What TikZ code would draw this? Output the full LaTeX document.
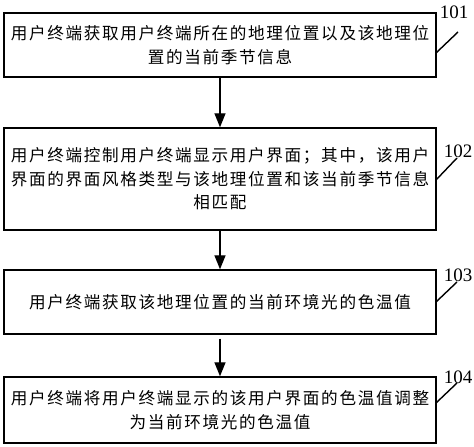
\documentclass[tikz,border=0pt]{standalone}
\usepackage{fontspec}
\newfontfamily\cjk[LetterSpace=10]{Noto Sans CJK SC}
\newfontfamily\numfont{Liberation Serif}
\usetikzlibrary{arrows.meta}
\begin{document}
\begin{tikzpicture}[x=1pt,y=1pt,
  stepbox/.style={draw,line width=1.4pt,minimum width=432pt,inner sep=0pt,align=center,
    font=\cjk\fontsize{16.6}{23.5}\selectfont},
  flow/.style={line width=1.4pt,-{Triangle[length=14pt,width=11pt]}},
  lead/.style={line width=1.4pt},
  num/.style={font=\numfont\fontsize{19}{19}\selectfont,inner sep=0pt}]
\useasboundingbox (0,0) rectangle (474,447);
\node[stepbox,minimum height=64pt] (b1) at (220,402) {用户终端获取用户终端所在的地理位置以及该地理位\\置的当前季节信息};
\node[stepbox,minimum height=102pt] (b2) at (220,268) {用户终端控制用户终端显示用户界面；其中，该用户\\界面的界面风格类型与该地理位置和该当前季节信息\\相匹配};
\node[stepbox,minimum height=64pt] (b3) at (220,145) {用户终端获取该地理位置的当前环境光的色温值};
\node[stepbox,minimum height=66pt] (b4) at (220,37) {用户终端将用户终端显示的该用户界面的色温值调整\\为当前环境光的色温值};
\draw[flow] (b1.south) -- (b2.north);
\draw[flow] (b2.south) -- (b3.north);
\draw[flow,shorten <=4pt] (b3.south) -- (b4.north);
\node[num] (n1) at (454,435) {101};
\node[num] (n2) at (458,296) {102};
\node[num] (n3) at (458,172) {103};
\node[num] (n4) at (458,70) {104};
\coordinate (l1a) at (436,394);
\coordinate (l1b) at (458,415);
\coordinate (l2a) at (436,267);
\coordinate (l2b) at (457,289);
\coordinate (l3a) at (436,145);
\coordinate (l3b) at (457,165);
\coordinate (l4a) at (436,44);
\coordinate (l4b) at (457,64);
\draw[lead] (l1a) -- (l1b);
\draw[lead] (l2a) -- (l2b);
\draw[lead] (l3a) -- (l3b);
\draw[lead] (l4a) -- (l4b);
\end{tikzpicture}
\end{document}
